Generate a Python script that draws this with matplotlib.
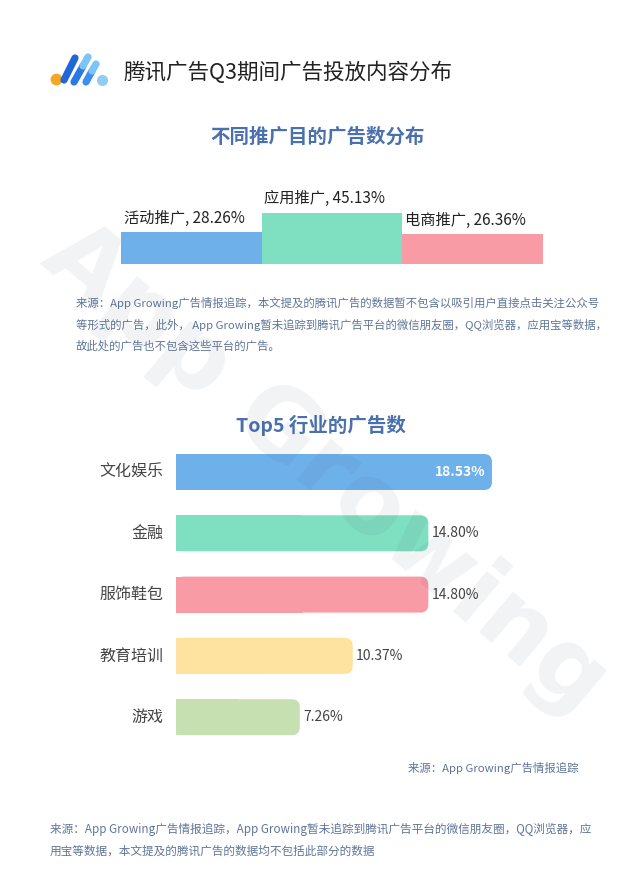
import matplotlib
matplotlib.use("Agg")
import matplotlib.pyplot as plt
from matplotlib.patches import FancyBboxPatch

plt.rcParams['font.family'] = ['Noto Sans CJK SC', 'DejaVu Sans']

# data
main_title = "腾讯广告Q3期间广告投放内容分布"
purpose_title = "不同推广目的广告数分布"
purpose_names = ["活动推广", "应用推广", "电商推广"]
purpose_values = [28.26, 45.13, 26.36]
purpose_colors = ["#6eb0e9", "#7fdfc1", "#f99ba4"]

industry_title = "Top5 行业的广告数"
industry_names = ["文化娱乐", "金融", "服饰鞋包", "教育培训", "游戏"]
industry_values = [18.53, 14.80, 14.80, 10.37, 7.26]
industry_colors = ["#6eb0e9", "#7fdfc1", "#f99ba4", "#fde2a0", "#c6e0b2"]

note_1 = ["来源：App Growing广告情报追踪，本文提及的腾讯广告的数据暂不包含以吸引用户直接点击关注公众号",
          "等形式的广告，此外， App Growing暂未追踪到腾讯广告平台的微信朋友圈，QQ浏览器，应用宝等数据，",
          "故此处的广告也不包含这些平台的广告。"]
note_2 = "来源：App Growing广告情报追踪"
note_3 = ["来源：App Growing广告情报追踪，App Growing暂未追踪到腾讯广告平台的微信朋友圈，QQ浏览器，应",
          "用宝等数据，本文提及的腾讯广告的数据均不包括此部分的数据"]

W, H = 640, 874
title_blue = "#4a70ae"
note_col = "#5f7598"
text_col = "#444444"

fig = plt.figure(figsize=(W / 100, H / 100), dpi=100)
fig.patch.set_facecolor("white")


def px_axes(x0, y0, x1, y1):
    # axes from pixel box (top-left origin)
    return fig.add_axes([x0 / W, 1 - y1 / H, (x1 - x0) / W, (y1 - y0) / H])


# page layer for texts and logo
bg = fig.add_axes([0, 0, 1, 1])
bg.set_xlim(0, W)
bg.set_ylim(H, 0)
bg.axis("off")

# logo stripes
bg.plot([56], [79], "o", color="#f5a623", ms=7.5)
bg.plot([64, 75], [80, 58], color="#2166d9", lw=5.2, solid_capstyle="round")
bg.plot([74, 83], [82, 66], color="#2a78e4", lw=5.2, solid_capstyle="round")
bg.plot([83, 88], [66, 57], color="#7cc4f5", lw=5.2, solid_capstyle="round")
bg.plot([86, 92], [82, 71], color="#3d8ef0", lw=5.2, solid_capstyle="round")
bg.plot([92, 96], [71, 64], color="#7cc4f5", lw=5.2, solid_capstyle="round")
bg.plot([102], [80], "o", color="#8fcdf6", ms=7)

bg.text(123, 73, main_title, fontsize=15.5, color="#222222", va="center", ha="left")
bg.text(318, 137, purpose_title, fontsize=14, color=title_blue, weight="bold", ha="center", va="center")
bg.text(321, 425, industry_title, fontsize=14, color=title_blue, weight="bold", ha="center", va="center")

for i, line in enumerate(note_1):
    bg.text(76, 303 + i * 21.5, line, fontsize=8.2, color=note_col, ha="left", va="center")
bg.text(578, 768, note_2, fontsize=8.2, color=note_col, ha="right", va="center")
for i, line in enumerate(note_3):
    bg.text(50, 829 + i * 22, line, fontsize=8.4, color=note_col, ha="left", va="center")

# top chart: equal widths, heights by share
ax1 = px_axes(121, 264 - 60 * 1.13, 543, 264)
ax1.set_xlim(0, 3)
ax1.set_ylim(0, 60)
ax1.axis("off")
ax1.bar(range(3), purpose_values, width=1, align="edge", color=purpose_colors)
for i, (name, v) in enumerate(zip(purpose_names, purpose_values)):
    ax1.annotate(f"{name}, {v:.2f}%", (i, v), xytext=(2, 4), textcoords="offset points",
                 fontsize=11, color="#222222", ha="left", va="bottom")

# bottom chart: rounded horizontal bars
pitch = 61.3
ax2 = px_axes(176, 472 - pitch / 2, 176 + 25 * 17.05, 472 + pitch * 4.5)
ax2.set_xlim(0, 25)
ax2.set_ylim(4.5, -0.5)
ax2.axis("off")
bar_h = 36 / pitch
aspect = (1 / pitch) / (1 / 17.05)
radius = 8 / 17.05
for i, (name, v, c) in enumerate(zip(industry_names, industry_values, industry_colors)):
    ax2.add_patch(FancyBboxPatch((0, i - bar_h / 2), v, bar_h,
                                 boxstyle=f"round,pad=0,rounding_size={radius}",
                                 mutation_aspect=aspect, fc=c, ec="none"))
    # square off the left corners
    ax2.barh(i, v / 2, height=bar_h, color=c, linewidth=0, antialiased=False)
    ax2.text(-0.75, i, name, fontsize=11.5, color=text_col, ha="right", va="center", clip_on=False)
    if i == 0:
        ax2.text(v - 0.35, i, f"{v:.2f}%", fontsize=10, color="white", weight="bold",
                 ha="right", va="center")
    else:
        ax2.text(v + 0.2, i, f"{v:.2f}%", fontsize=10, color=text_col, ha="left", va="center")

# watermark
wm = fig.add_axes([0, 0, 1, 1])
wm.set_xlim(0, W)
wm.set_ylim(H, 0)
wm.axis("off")
wm.text(325, 470, "App Growing", fontsize=70, color="#3a4f75", alpha=0.07,
        rotation=-40, ha="center", va="center", weight="bold", family="DejaVu Sans")

fig.savefig("out.png", dpi=100, facecolor="white")
